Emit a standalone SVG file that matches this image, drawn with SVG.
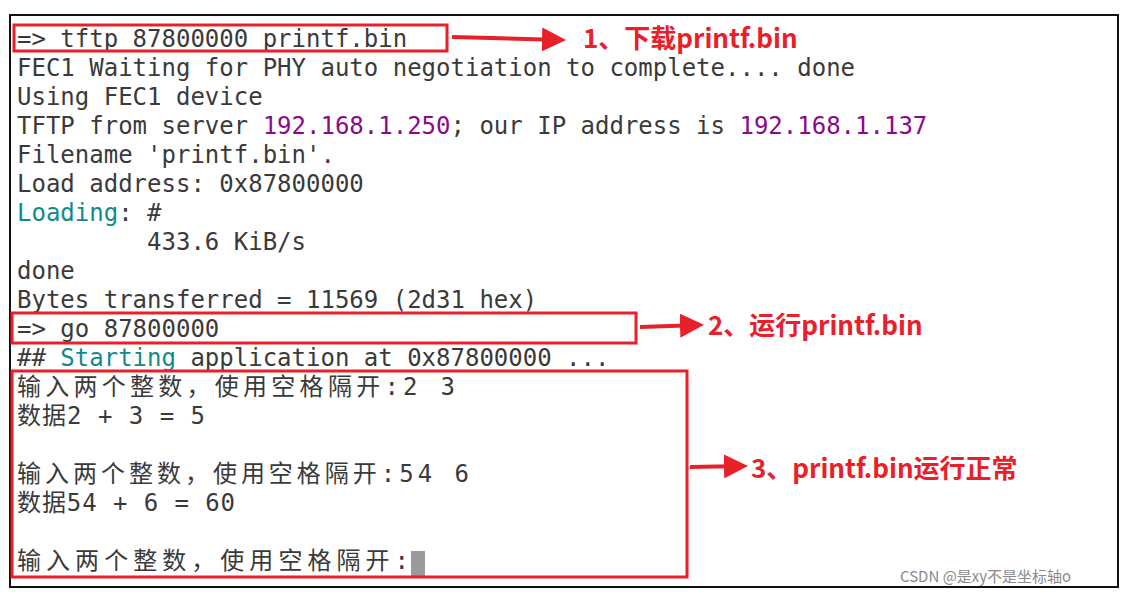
<svg xmlns="http://www.w3.org/2000/svg" width="1133" height="594" viewBox="0 0 1133 594">
<style>
.t{font-family:"DejaVu Sans Mono","Noto Sans CJK SC",monospace;font-size:24px;fill:#3a3a3a}
.p{fill:#8b0a8b}.c{fill:#138a8a}
.box{fill:none;stroke:#e8202a;stroke-width:3}
.ln{stroke:#e8202a;stroke-width:4;fill:none}
.lb{font-family:"Noto Sans CJK SC","Noto Sans",sans-serif;font-weight:bold;font-size:26px;fill:#e8202a}
</style>
<defs><marker id="ah" markerWidth="6" markerHeight="6" refX="5" refY="3" orient="auto" markerUnits="strokeWidth"><path d="M0,0L6,3L0,6z" fill="#e8202a"/></marker></defs>
<rect width="1133" height="594" fill="#fff"/>
<rect x="10" y="15" width="1108" height="572" fill="none" stroke="#111" stroke-width="2"/>
<g id="terminal">
<text class="t" x="17" y="47">=&gt; tftp 87800000 printf.bin</text>
<text class="t" x="17" y="76">FEC1 Waiting for PHY auto negotiation to complete.... done</text>
<text class="t" x="17" y="105">Using FEC1 device</text>
<text class="t" x="17" y="134">TFTP from server <tspan class="p">192.168.1.250</tspan>; our IP address is <tspan class="p">192.168.1.137</tspan></text>
<text class="t" x="17" y="163">Filename 'printf.bin'.</text>
<text class="t" x="17" y="192">Load address: 0x87800000</text>
<text class="t" x="17" y="221"><tspan class="c">Loading</tspan>: #</text>
<text class="t" x="17" y="250" xml:space="preserve">         433.6 KiB/s</text>
<text class="t" x="17" y="279">done</text>
<text class="t" x="17" y="308">Bytes transferred = 11569 (2d31 hex)</text>
<text class="t" x="17" y="337">=&gt; go 87800000</text>
<text class="t" x="17" y="366">## <tspan class="c">Starting</tspan> application at 0x87800000 ...</text>
<text class="t" x="17" y="395" textLength="438" lengthAdjust="spacing">输入两个整数，使用空格隔开:2 3</text>
<text class="t" x="17" y="424" textLength="188" lengthAdjust="spacing">数据2 + 3 = 5</text>
<text class="t" x="17" y="482" textLength="452" lengthAdjust="spacing">输入两个整数，使用空格隔开:54 6</text>
<text class="t" x="17" y="511" textLength="218" lengthAdjust="spacing">数据54 + 6 = 60</text>
<text class="t" x="17" y="569" textLength="392" lengthAdjust="spacing">输入两个整数，使用空格隔开:</text>
<rect x="411" y="551" width="14" height="25" fill="#9a9a9a"/>
</g>
<g id="box1"><rect class="box" x="14" y="25" width="433" height="26"/></g>
<g id="box2"><rect class="box" x="12" y="313" width="624" height="30"/></g>
<g id="box3"><rect class="box" x="12" y="371" width="675" height="206"/></g>
<g id="connectors">
<line class="ln" x1="452" y1="37" x2="562" y2="40" marker-end="url(#ah)"/>
<line class="ln" x1="640" y1="327" x2="700" y2="325" marker-end="url(#ah)"/>
<line class="ln" x1="690" y1="467" x2="744" y2="466" marker-end="url(#ah)"/>
</g>
<g id="labels">
<text class="lb" x="583" y="48">1、下载printf.bin</text>
<text class="lb" x="708" y="335">2、运行printf.bin</text>
<text class="lb" x="751" y="478">3、printf.bin运行正常</text>
</g>
<text x="900" y="582" font-family="Noto Sans CJK SC,sans-serif" font-size="15" fill="#8a8a8a">CSDN @是xy不是坐标轴o</text>
</svg>
